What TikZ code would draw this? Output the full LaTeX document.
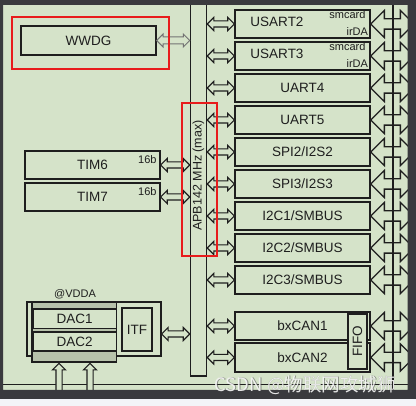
\documentclass[tikz,border=0pt]{standalone}
\usepackage{fontspec}
\setmainfont{Liberation Sans}
\newfontfamily\wmfont{Noto Sans CJK SC}
\usepackage{tikz}
\usetikzlibrary{shapes.arrows, calc}
\definecolor{apbgreen}{RGB}{213,227,201}
\definecolor{dacgray}{RGB}{183,194,171}
\definecolor{framedark}{RGB}{58,58,62}
\definecolor{pagelight}{RGB}{243,244,248}
\definecolor{inkdark}{RGB}{30,30,30}
\definecolor{markred}{RGB}{232,28,28}

\newcommand{\hollowlink}[3][hollow]{%
  \path let \p1=(#2), \p2=(#3) in
    node[#1, minimum height={abs(\x2-\x1)}] at ({(\x1+\x2)/2},\y2) {};}

\begin{document}
\begin{tikzpicture}[x=1pt, y=-1pt,
  perbox/.style={draw=inkdark, fill=apbgreen, line width=1.4pt, inner sep=0pt,
    minimum width=135pt, minimum height=28pt, text=inkdark, font=\fontsize{13.5}{15}\selectfont},
  smalltag/.style={inner sep=0pt, text=inkdark, font=\fontsize{11}{12}\selectfont},
  hollow/.style={double arrow, draw=inkdark, fill=apbgreen, line width=1.1pt,
    inner xsep=0pt, inner ysep=2.5pt, minimum width=0pt,
    double arrow head extend=3.5pt, double arrow tip angle=90},
  rimarrow/.style={hollow, line width=1.3pt, inner ysep=4.5pt, double arrow head extend=8.5pt},
  ghostarrow/.style={hollow, draw=black!55, line width=1pt, inner ysep=3pt, double arrow head extend=3pt},
  uparrow/.style={single arrow, draw=inkdark, fill=apbgreen, line width=1.1pt, rotate=90,
    inner xsep=0pt, inner ysep=2.5pt, minimum width=0pt,
    single arrow head extend=3.5pt, single arrow tip angle=90}]
  \useasboundingbox (0,0) rectangle (416,406);
  \fill[apbgreen] (0,0) rectangle (416,406);
  \draw[inkdark, line width=1.2pt] (0,384.5) -- (416,384.5);

  \node[draw=inkdark, fill=apbgreen, line width=1.5pt, minimum width=16pt, minimum height=376pt, inner sep=0pt] (bus) at (198.5,188) {};
  \node[rotate=90, text=inkdark, font=\fontsize{12.5}{14}\selectfont] (apb) at (198.5,175.5) {APB142 MHz (max)};
  \coordinate (rim) at (414,0);
  \coordinate (rtop) at (393,0);
  \coordinate (rbot) at (393,396);

  \node[perbox, minimum height=29pt] (wwdg) at (88.5,40.5) {WWDG};
  \node[perbox] (tim6) at (92.5,165) {TIM6};
  \node[perbox] (tim7) at (92.5,197) {TIM7};
  \node[smalltag, anchor=east] at ($(tim6.north east)+(-4,9)$) {16b};
  \node[smalltag, anchor=east] at ($(tim7.north east)+(-4,9)$) {16b};

  \foreach \i/\lbl in {0/{},1/{},2/UART4,3/UART5,4/{SPI2/I2S2},5/{SPI3/I2S3},6/{I2C1/SMBUS},7/{I2C2/SMBUS},8/{I2C3/SMBUS}}
    \node[perbox] (per\i) at (302.5,{24+32*\i}) {\lbl};
  \node[text=inkdark, font=\fontsize{13.5}{15}\selectfont] at ([xshift=-25.5pt, yshift=2.5pt]per0.center) {USART2};
  \node[text=inkdark, font=\fontsize{13.5}{15}\selectfont] at ([xshift=-25.5pt, yshift=2.5pt]per1.center) {USART3};
  \foreach \i in {0,1} {
    \node[smalltag, anchor=east] at ($(per\i.north east)+(-5,5.5)$) {smcard};
    \node[smalltag, anchor=east] at ($(per\i.south east)+(-2.5,-7)$) {irDA};
  }
  \node[perbox] (can1) at (302.5,326) {bxCAN1};
  \node[perbox, minimum height=29pt] (can2) at (302.5,357.5) {bxCAN2};
  \node[perbox, rotate=90, minimum width=55pt, minimum height=19pt] (fifo) at (357.5,341.5) {FIFO};

  \node[draw=inkdark, line width=1.2pt, minimum width=134pt, minimum height=54pt, inner sep=0pt] (dacfrm) at (94,329) {};
  \draw[inkdark, line width=1pt] ($(dacfrm.north west)+(5,0)$) -- ($(dacfrm.south west)+(5,0)$);
  \node[draw=inkdark, fill=dacgray, line width=1.2pt, minimum width=84.5pt, minimum height=60pt, inner sep=0pt] (dacblk) at (74.25,332) {};
  \node[perbox, line width=1.2pt, minimum width=83.5pt, minimum height=19.5pt] (dac1) at (74.75,318.75) {DAC1};
  \node[perbox, line width=1.2pt, minimum width=83.5pt, minimum height=19pt] (dac2) at (74.75,341.5) {DAC2};
  \node[perbox, line width=1.2pt, minimum width=30pt, minimum height=43pt] (itf) at (137,329.5) {ITF};
  \node[smalltag] (vdda) at (75,294) {@VDDA};
  \coordinate (dacport) at ($(dacfrm.east)+(0,5)$);
  \coordinate (vin1) at (59,396);
  \coordinate (vin2) at (90,396);

  \foreach \blk in {per0,per1,per2,per3,per4,per5,per6,per7,per8,can1,can2} {
    \hollowlink{bus.east |- \blk.west}{\blk.west}
    \hollowlink[rimarrow]{\blk.east}{rim |- \blk.east}
  }
  \hollowlink{tim6.east}{bus.west |- tim6.east}
  \hollowlink{tim7.east}{bus.west |- tim7.east}
  \hollowlink{dacport}{bus.west |- dacport}
  \hollowlink[ghostarrow]{wwdg.east}{bus.west |- wwdg.east}
  \node[uparrow, anchor=tip, minimum height=34pt] (in1) at (vin1 |- dacblk.south) {};
  \node[uparrow, anchor=tip, minimum height=34pt] (in2) at (vin2 |- dacblk.south) {};
  \draw[inkdark, line width=1.5pt] (rtop) -- (rbot);

  \draw[markred, line width=1.3pt] (12,17) rectangle (169,69);
  \draw[markred, line width=1.3pt] (182,103) rectangle (217,256);

  \fill[framedark, even odd rule] (0,0) rectangle (416,399) (3,5) rectangle (407.5,390);
  \fill[pagelight] (0,399) rectangle (416,406);
  \node[text=black!70, opacity=0.55, font=\wmfont\fontsize{18.5}{20}\selectfont] (markshade) at (305.8,385.8) {CSDN @物联网攻城狮};
  \node[text=white!94!gray, opacity=0.9, font=\wmfont\fontsize{18.5}{20}\selectfont] (mark) at (305,385) {CSDN @物联网攻城狮};
\end{tikzpicture}
\end{document}
